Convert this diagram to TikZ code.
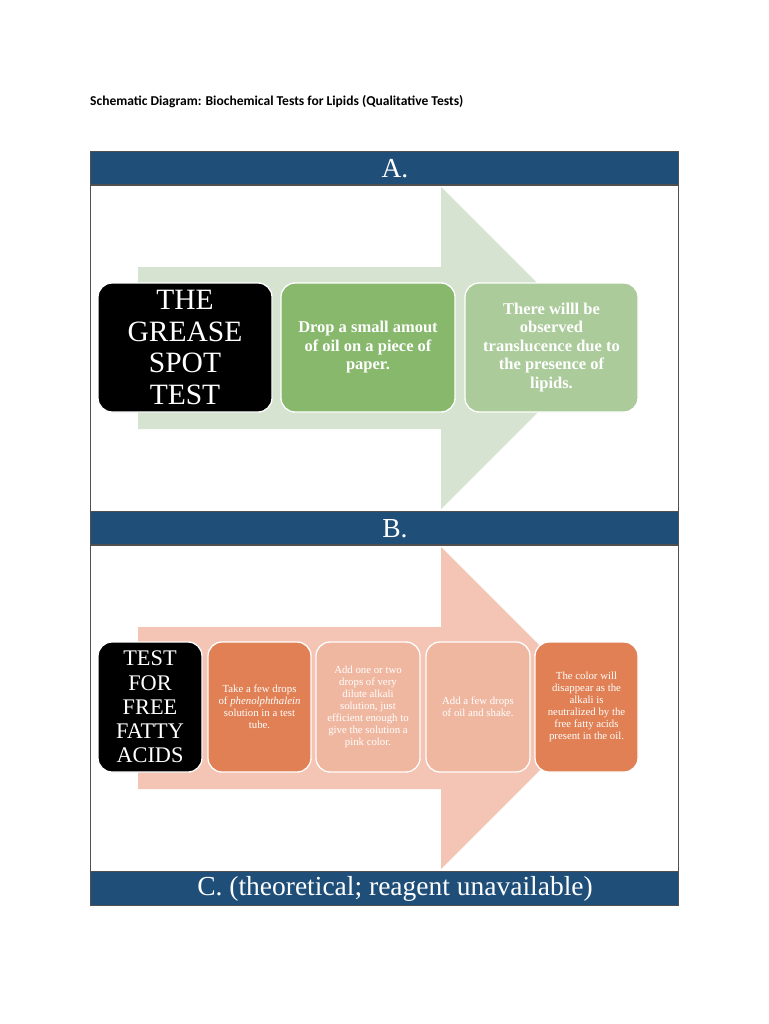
\documentclass[tikz,border=0pt]{standalone}
\usepackage{fontspec}
\setmainfont{Liberation Serif}
\newfontfamily\calib{Carlito}
\definecolor{hdrblue}{RGB}{31,78,121}
\definecolor{tblgray}{RGB}{80,80,80}
\definecolor{arrowgreen}{RGB}{214,227,208}
\definecolor{boxgreen}{RGB}{135,184,108}
\definecolor{boxltgreen}{RGB}{171,203,155}
\definecolor{arrowpeach}{RGB}{244,197,180}
\definecolor{boxorange}{RGB}{224,128,84}
\definecolor{boxltorange}{RGB}{240,183,160}
\tikzset{
  hdrcell/.style={fill=hdrblue, draw=tblgray, line width=0.8pt},
  bodycell/.style={fill=white, draw=tblgray, line width=0.8pt},
  hdrtext/.style={text=white, font=\fontsize{27.5}{30}\selectfont, inner sep=0pt},
  flowbox/.style={draw=white, line width=1.3pt, rounded corners=14pt, inner sep=0pt, align=center, text=white},
  bigA/.style={flowbox, fill=black, minimum height=129pt, font=\fontsize{29.5}{31.7}\selectfont},
  midA/.style={flowbox, minimum height=129pt, font=\fontsize{16.5}{18.5}\selectfont\bfseries},
  bigB/.style={flowbox, fill=black, minimum height=130pt, minimum width=104pt, font=\fontsize{22.3}{24.2}\selectfont},
  smallB/.style={flowbox, minimum height=130pt, minimum width=103pt, font=\fontsize{10.8}{12}\selectfont}
}
\begin{document}
\begin{tikzpicture}[x=1pt,y=-1pt]
\useasboundingbox (0,0) rectangle (768,1024);
\fill[white] (0,0) rectangle (768,1024);

% title
\node[anchor=west, inner sep=0pt, font=\calib\bfseries\fontsize{13.55}{16}\selectfont] (title) at (90,102)
  {Schematic Diagram: Biochemical Tests for Lipids (Qualitative Tests)};

% table
\draw[hdrcell] (90,151) rectangle (678,184);
\draw[bodycell] (90,185) rectangle (678,511);
\draw[hdrcell] (90,511) rectangle (678,544);
\draw[bodycell] (90,545) rectangle (678,871);
\draw[hdrcell] (90,871) rectangle (678,905);

\node[hdrtext] (hA) at (395,169) {A.};
\node[hdrtext] (hB) at (395,529) {B.};
\node[hdrtext] (hC) at (395,888.5) {C. (theoretical; reagent unavailable)};

% section A arrow
\fill[arrowgreen] (138,267) -- (441,267) -- (441,187) -- (602,348) -- (441,509) -- (441,429) -- (138,429) -- cycle;

\node[bigA, minimum width=174pt] (a1) at (185,347.5) {THE\\GREASE\\SPOT\\TEST};
\node[midA, fill=boxgreen, minimum width=174pt] (a2) at (368,347.5) {Drop a small amout\\of oil on a piece of\\paper.};
\node[midA, fill=boxltgreen, minimum width=173pt] (a3) at (551.5,347.5) {There willl be\\observed\\translucence due to\\the presence of\\lipids.};

% section B arrow
\fill[arrowpeach] (138,627) -- (441,627) -- (441,547) -- (602,708) -- (441,869) -- (441,789) -- (138,789) -- cycle;

\node[bigB] (b1) at (150,707) {TEST\\FOR\\FREE\\FATTY\\ACIDS};
\node[smallB, fill=boxorange] (b2) at (259.5,707) {Take a few drops\\of \textit{phenolphthalein}\\solution in a test\\tube.};
\node[smallB, fill=boxltorange, minimum width=104pt] (b3) at (368,707) {Add one or two\\drops of very\\dilute alkali\\solution, just\\efficient enough to\\give the solution a\\pink color.};
\node[smallB, fill=boxltorange, minimum width=104pt] (b4) at (478,707) {Add a few drops\\of oil and shake.};
\node[smallB, fill=boxorange] (b5) at (586.5,707) {The color will\\disappear as the\\alkali is\\neutralized by the\\free fatty acids\\present in the oil.};
\end{tikzpicture}
\end{document}
